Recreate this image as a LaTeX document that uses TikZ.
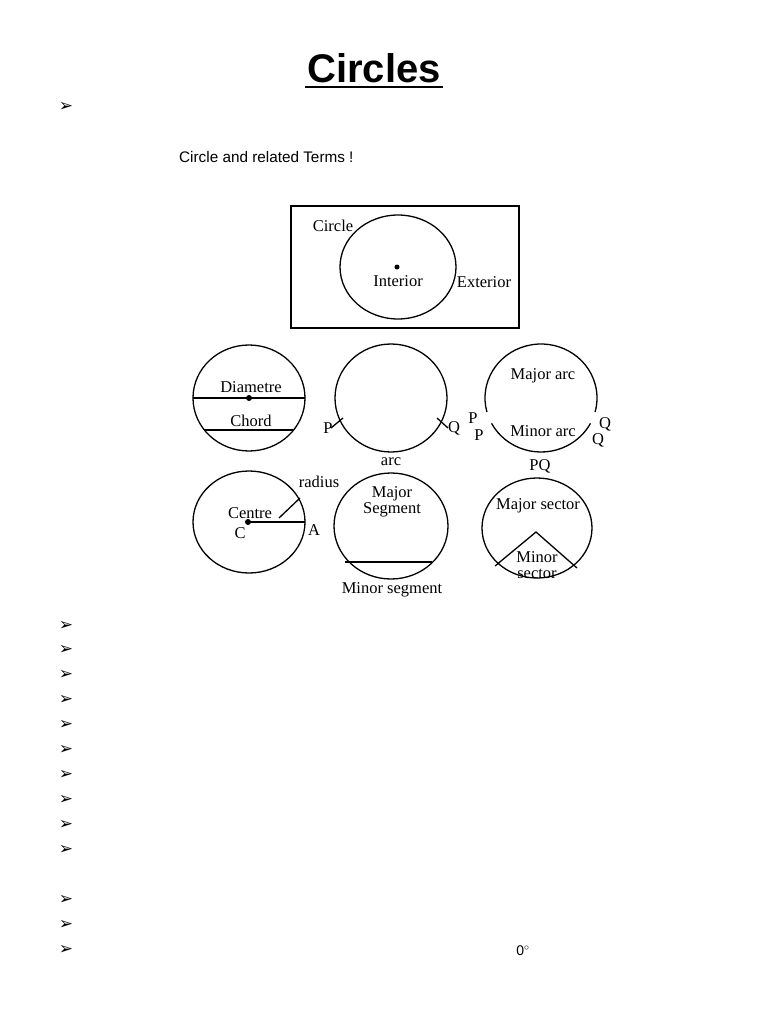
\documentclass[tikz,border=0pt]{standalone}
\usepackage{fontspec}
\setmainfont{Liberation Serif}
\newfontfamily\lsans{Liberation Sans}
\newfontfamily\dvs{DejaVu Sans}
\begin{document}
\begin{tikzpicture}[x=1pt,y=-1pt,
  lbl/.style={inner sep=0pt,font=\fontsize{16.5}{17}\selectfont},
  bul/.style={inner sep=0pt,font=\dvs\fontsize{17}{17}\selectfont},
  fig/.style={line width=1.3pt}]
\useasboundingbox (0,0) rectangle (768,1024);
\node[inner sep=0pt,font=\lsans\bfseries\fontsize{40}{40}\selectfont] (title) at (374,68) {Circles};
\draw[line width=2pt] (305,87) -- (443,87);
\foreach \y [count=\i] in {107,626,650,675,700,725,750,775,800,825,850,900,925,950}
  \node[bul] (b\i) at (66,\y) {➢};
\node[inner sep=0pt,anchor=west,font=\lsans\fontsize{15.3}{15}\selectfont] (sub) at (179,157) {Circle and related Terms !};
% box
\draw[fig] (291,206) rectangle (519,328);
\draw[fig] (398,267) ellipse (58 and 52);
\fill (397,267) circle (2.5);
\node[lbl] (int) at (398,281) {Interior};
\node[lbl] (ext) at (484,282) {Exterior};
\node[lbl] (cir) at (333,226) {Circle};
% row 2
\draw[fig] (249,398) ellipse (56 and 53);
\draw[fig] (193,398) -- (305,398);
\draw[fig] (204,430) -- (293,430);
\fill (249,398) circle (3);
\node[lbl] (dia) at (251,387) {Diametre};
\node[lbl] (cho) at (251,421) {Chord};
\draw[fig] (391,398) ellipse (56 and 54);
\draw[fig] (331,428) -- (343,418);
\draw[fig] (437,418) -- (448,428);
\node[lbl] (p1) at (328,428) {P};
\node[lbl] (q1) at (454,428) {Q};
\node[lbl] (arc) at (391,462) {arc};
\draw[fig] ([shift={(541,398)}]165:56 and 54) arc[x radius=56,y radius=54,start angle=165,end angle=375];
\draw[fig] ([shift={(541,398)}]152:56 and 54) arc[x radius=56,y radius=54,start angle=152,end angle=28];
\node[lbl] (p2) at (473,418) {P};
\node[lbl] (p3) at (479,435) {P};
\node[lbl] (q2) at (605,424) {Q};
\node[lbl] (q3) at (598,440) {Q};
\node[lbl] (maj) at (543,376) {Major arc};
\node[lbl] (min) at (543,431) {Minor arc};
\node[lbl] (pq) at (540,466) {PQ};
% row 3
\draw[fig] (249,522) ellipse (56 and 51);
\fill (248,522) circle (3);
\draw[fig] (248,522) -- (305,522);
\draw[fig] (279,518) -- (300,498);
\node[lbl] (rad) at (319,482) {radius};
\node[lbl] (cen) at (250,513) {Centre};
\node[lbl] (c) at (240,533) {C};
\node[lbl] (a) at (314,530) {A};
\draw[fig] (391,526) ellipse (57 and 53);
\draw[fig] (345,562) -- (432,562);
\node[lbl] (mj) at (392,494) {Major};
\node[lbl] (sg) at (392,510) {Segment};
\node[lbl] (ms) at (392,590) {Minor segment};
\draw[fig] (537,528) ellipse (55 and 50);
\draw[fig] (495,566) -- (536,532) -- (577,568);
\node[lbl] (ms2) at (538,506) {Major sector};
\node[lbl] (mn) at (537,557) {Minor};
\node[lbl] (sc) at (537,574) {sector};
\node[inner sep=0pt,font=\lsans\fontsize{14}{14}\selectfont] (zero) at (523,951) {0$^\circ$};
\end{tikzpicture}
\end{document}
